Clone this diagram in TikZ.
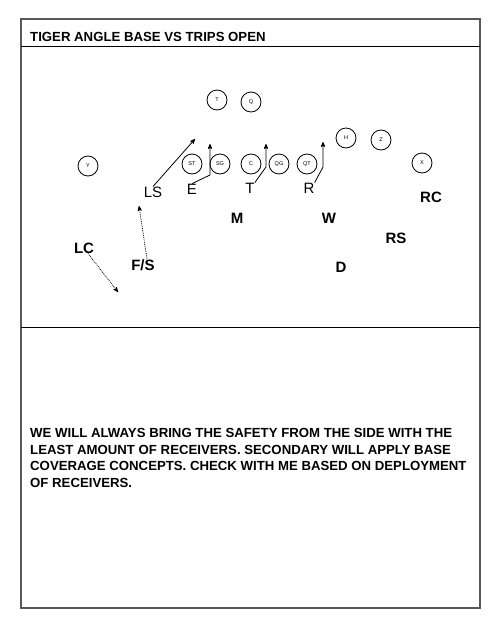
\documentclass[tikz,border=0pt]{standalone}
\usepackage{fontspec}
\setmainfont{Liberation Sans}
\usetikzlibrary{arrows}
\tikzset{>=stealth',x=1pt,y=-1pt,
  player/.style={draw,circle,line width=0.8pt,minimum size=20pt,inner sep=0pt,
    font=\fontsize{5.5}{6}\selectfont},
  rusher/.style={inner sep=0pt,font=\fontsize{15}{16}\selectfont},
  cover/.style={inner sep=0pt,font=\fontsize{15}{16}\bfseries\selectfont},
  rush/.style={->,line width=0.8pt},
  drop/.style={->,densely dotted,line width=0.8pt}}

\begin{document}
\begin{tikzpicture}
  \useasboundingbox (0,0) rectangle (495,640);
  % frame
  \draw[line width=1.3pt,black!65] (21,19) rectangle (480,608);
  \draw[line width=1pt] (21,46.5) -- (480,46.5);
  \draw[line width=1pt] (21,327) -- (480,327);

  \node[anchor=base west,inner sep=0pt,font=\fontsize{13.2}{15}\bfseries\selectfont] (title)
    at (30,41.7) {TIGER ANGLE BASE VS TRIPS OPEN};

  % offense
  \node[player] (t) at (217,100) {T};
  \node[player] (q) at (251,102) {Q};
  \node[player] (st) at (192,164) {ST};
  \node[player] (sg) at (220,164) {SG};
  \node[player] (c) at (251,164) {C};
  \node[player] (qg) at (279,164) {QG};
  \node[player] (qt) at (307,164) {QT};
  \node[player] (h) at (346,138) {H};
  \node[player] (z) at (381,140) {Z};
  \node[player] (x) at (422,163) {X};
  \node[player] (y) at (88,166) {Y};

  % defense
  \node[rusher] (ls) at (153,192) {LS};
  \node[rusher] (e) at (192,189) {E};
  \node[rusher] (tk) at (250,188) {T};
  \node[rusher] (r) at (309,188) {R};
  \node[cover] (m) at (237,218) {M};
  \node[cover] (w) at (329,218) {W};
  \node[cover] (rc) at (431,197) {RC};
  \node[cover] (rs) at (396,238) {RS};
  \node[cover] (d) at (341,267) {D};
  \node[cover] (lc) at (84,248) {LC};
  \node[cover] (fs) at (143,265) {F/S};

  \coordinate (lsTip) at (195,139);
  \coordinate (eK) at (210,175);
  \coordinate (eTip) at (210,144);
  \coordinate (tK) at (266,167);
  \coordinate (tTip) at (266,144);
  \coordinate (rK) at (323,167);
  \coordinate (rTip) at (323,142);
  \coordinate (fsTip) at (139,206);
  \coordinate (lcTip) at (118,292);

  \draw[rush] (ls.north) -- (lsTip);
  \draw[rush] (e.north) -- (eK) -- (eTip);
  \draw[rush] (tk.north east) -- (tK) -- (tTip);
  \draw[rush] (r.north east) -- (rK) -- (rTip);
  \draw[drop] ([xshift=4pt]fs.north) -- (fsTip);
  \draw[drop] ([xshift=4pt]lc.south) -- (lcTip);

  \node[anchor=base west,inner sep=0pt,align=left,
    font=\fontsize{13.2}{16.7}\bfseries\selectfont] (note) at (30,487.4)
    {WE WILL ALWAYS BRING THE SAFETY FROM THE SIDE WITH THE\\
     LEAST AMOUNT OF RECEIVERS. SECONDARY WILL APPLY BASE\\
     COVERAGE CONCEPTS. CHECK WITH ME BASED ON DEPLOYMENT\\
     OF RECEIVERS.};
\end{tikzpicture}
\end{document}
